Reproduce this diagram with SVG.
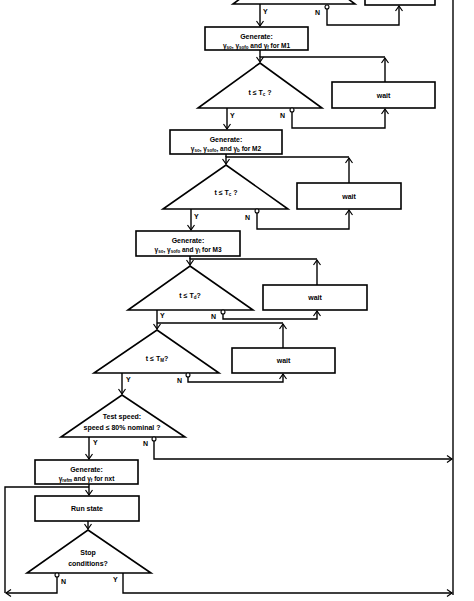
<svg xmlns="http://www.w3.org/2000/svg" width="474" height="601" viewBox="0 0 474 601">
<defs>
<marker id="ah" markerUnits="userSpaceOnUse" markerWidth="10" markerHeight="10" refX="6" refY="4" orient="auto">
<path d="M1,0.5 L6,4 L1,7.5" fill="none" stroke="#000" stroke-width="1.2"/>
</marker>
<style>
.s{fill:#fff;stroke:#000;stroke-width:1.6}
.c{fill:none;stroke:#000;stroke-width:1.4}
.o{fill:#fff;stroke:#000;stroke-width:1.1}
text{font-family:"Liberation Sans",Arial,sans-serif;font-weight:bold;font-size:7px;fill:#000;text-anchor:middle}
.l{font-size:7px;text-anchor:start}
.sb{font-size:4.5px}
</style>
</defs>
<rect width="474" height="601" fill="#fff"/>

<g id="dec0"><polygon class="s" points="294,-41 355,4 233,4"/></g>
<g id="wait0"><rect class="s" x="365" y="-20" width="70" height="25"/></g>

<g id="gen1"><rect class="s" x="205" y="27" width="103" height="23"/>
<text x="256.5" y="38.5">Generate:</text>
<text x="256.5" y="47.5" style="font-size:6.5px">γ<tspan class="sb" dy="1">so</tspan><tspan dy="-1">, γ</tspan><tspan class="sb" dy="1">sofo</tspan><tspan dy="-1"> and γ</tspan><tspan class="sb" dy="1">f</tspan><tspan dy="-1"> for M1</tspan></text></g>

<g id="dec1"><polygon class="s" points="260,63 322,108 198,108"/>
<text x="260" y="95">t ≤ T<tspan class="sb" dy="1">c</tspan><tspan dy="-1"> ?</tspan></text></g>
<g id="wait1"><rect class="s" x="332" y="82" width="103" height="26"/><text x="383.5" y="97.5">wait</text></g>

<g id="gen2"><rect class="s" x="170" y="130" width="112" height="24"/>
<text x="226" y="141.5">Generate:</text>
<text x="226" y="151" style="font-size:6.5px">γ<tspan class="sb" dy="1">so</tspan><tspan dy="-1">, γ</tspan><tspan class="sb" dy="1">sofo</tspan><tspan dy="-1">, and γ</tspan><tspan class="sb" dy="1">b</tspan><tspan dy="-1"> for M2</tspan></text></g>

<g id="dec2"><polygon class="s" points="226,165 288,209 163,209"/>
<text x="226" y="195">t ≤ T<tspan class="sb" dy="1">c</tspan><tspan dy="-1"> ?</tspan></text></g>
<g id="wait2"><rect class="s" x="297" y="183" width="104" height="26"/><text x="349" y="198.5">wait</text></g>

<g id="gen3"><rect class="s" x="136" y="231" width="104" height="25"/>
<text x="188" y="242.5">Generate:</text>
<text x="188" y="252" style="font-size:6.5px">γ<tspan class="sb" dy="1">so</tspan><tspan dy="-1">, γ</tspan><tspan class="sb" dy="1">sofo</tspan><tspan dy="-1"> and γ</tspan><tspan class="sb" dy="1">l</tspan><tspan dy="-1"> for M3</tspan></text></g>

<g id="dec3"><polygon class="s" points="190,266 253,310 128,310"/>
<text x="190" y="298">t ≤ T<tspan class="sb" dy="1">d</tspan><tspan dy="-1">?</tspan></text></g>
<g id="wait3"><rect class="s" x="263" y="285" width="104" height="25"/><text x="315" y="300">wait</text></g>

<g id="dec4"><polygon class="s" points="157,330 219,373 94,373"/>
<text x="157" y="361">t ≤ T<tspan class="sb" dy="1">M</tspan><tspan dy="-1">?</tspan></text></g>
<g id="wait4"><rect class="s" x="232" y="348" width="103" height="25"/><text x="283.5" y="363">wait</text></g>

<g id="dec5"><polygon class="s" points="122,395 185,437 61,437"/>
<text x="122" y="419">Test speed:</text>
<text x="122" y="430">speed ≤ 80% nominal ?</text></g>

<g id="gen4"><rect class="s" x="35" y="460" width="103" height="24"/>
<text x="86.5" y="471.5">Generate:</text>
<text x="86.5" y="481" style="font-size:6.5px">γ<tspan class="sb" dy="1">refm</tspan><tspan dy="-1"> and γ</tspan><tspan class="sb" dy="1">f</tspan><tspan dy="-1"> for nxt</tspan></text></g>

<g id="run"><rect class="s" x="35" y="496" width="104" height="25"/><text x="87" y="511">Run state</text></g>

<g id="dec6"><polygon class="s" points="88,530 151,573 27,573"/>
<text x="88" y="555">Stop</text>
<text x="88" y="566">conditions?</text></g>

<g id="connectors">
<path class="c" d="M453,0 V595"/>
<path class="c" d="M260,4 V26" marker-end="url(#ah)"/>
<path class="c" d="M327,9 V25 H399 V6" marker-end="url(#ah)"/>
<circle class="o" cx="327" cy="7" r="2"/>
<path class="c" d="M260,50 V57"/>
<path class="c" d="M385,82 V58" marker-end="url(#ah)"/>
<path class="c" d="M385,57 H260 V62" marker-end="url(#ah)"/>
<path class="c" d="M227,108 V129" marker-end="url(#ah)"/>
<path class="c" d="M292,112 V128 H385 V109" marker-end="url(#ah)"/>
<circle class="o" cx="292" cy="110" r="2"/>
<path class="c" d="M226,154 V157"/>
<path class="c" d="M349,183 V158" marker-end="url(#ah)"/>
<path class="c" d="M349,157 H226 V164" marker-end="url(#ah)"/>
<path class="c" d="M191,209 V230" marker-end="url(#ah)"/>
<path class="c" d="M257,213 V229 H349 V210" marker-end="url(#ah)"/>
<circle class="o" cx="257" cy="211" r="2"/>
<path class="c" d="M190,256 V259"/>
<path class="c" d="M317,285 V260" marker-end="url(#ah)"/>
<path class="c" d="M317,259 H190 V265" marker-end="url(#ah)"/>
<path class="c" d="M157,310 V329" marker-end="url(#ah)"/>
<path class="c" d="M223,314 V319 H317 V311" marker-end="url(#ah)"/>
<circle class="o" cx="223" cy="312" r="2"/>
<path class="c" d="M283,348 V324" marker-end="url(#ah)"/>
<path class="c" d="M283,323 H157"/>
<path class="c" d="M122,373 V394" marker-end="url(#ah)"/>
<path class="c" d="M188,377 V382 H283 V374" marker-end="url(#ah)"/>
<circle class="o" cx="188" cy="375" r="2"/>
<path class="c" d="M89,437 V459" marker-end="url(#ah)"/>
<path class="c" d="M154,441 V459 H452" marker-end="url(#ah)"/>
<circle class="o" cx="154" cy="439" r="2"/>
<path class="c" d="M89,484 V495" marker-end="url(#ah)"/>
<path class="c" d="M5,593 V487 H89"/>
<path class="c" d="M88,521 V529" marker-end="url(#ah)"/>
<path class="c" d="M57,577 V593 H6" marker-end="url(#ah)"/>
<circle class="o" cx="57" cy="575" r="2"/>
<path class="c" d="M123,573 V593 H452" marker-end="url(#ah)"/>
</g>

<g id="labels">
<text class="l" x="263" y="14">Y</text>
<text class="l" x="315" y="15">N</text>
<text class="l" x="230" y="118">Y</text>
<text class="l" x="280" y="118">N</text>
<text class="l" x="194" y="219">Y</text>
<text class="l" x="245" y="220">N</text>
<text class="l" x="160" y="318">Y</text>
<text class="l" x="211" y="319">N</text>
<text class="l" x="126" y="382">Y</text>
<text class="l" x="177" y="383">N</text>
<text class="l" x="93" y="445">Y</text>
<text class="l" x="143" y="446">N</text>
<text class="l" x="61" y="584">N</text>
<text class="l" x="113" y="582">Y</text>
</g>
</svg>
